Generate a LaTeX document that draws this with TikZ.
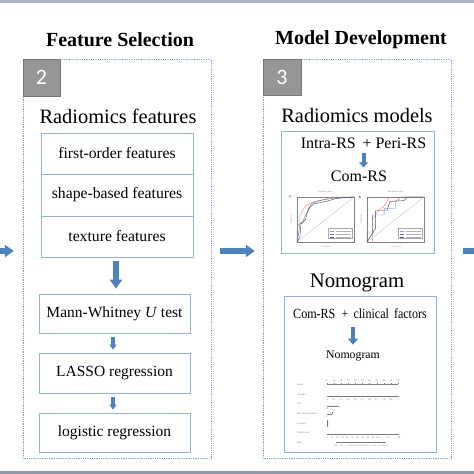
\documentclass[tikz,border=0pt]{standalone}
\usepackage{fontspec}
\setmainfont{Liberation Serif}
\newfontfamily\numfont{Carlito}
\usetikzlibrary{arrows.meta,calc}
\definecolor{boxblue}{HTML}{95B3D7}
\definecolor{dotblue}{HTML}{7FA7D0}
\definecolor{arrblue}{HTML}{4F81BD}
\definecolor{sqgray}{HTML}{969696}
\definecolor{rocred}{HTML}{F08080}
\definecolor{rocblue}{HTML}{5B7FC8}
\definecolor{rocgray}{HTML}{555555}
\definecolor{nomgray}{HTML}{7A7A7A}
\tikzset{
  panel/.style={draw=dotblue, line width=0.7pt, dash pattern=on 0.9pt off 0.9pt},
  numsq/.style={fill=sqgray, draw=sqgray!80!black, line width=0.3pt, text=white, font=\numfont\fontsize{22}{24}\selectfont, inner sep=0pt},
  lbox/.style={draw=boxblue, line width=0.8pt, inner sep=0pt, align=center},
  ttl/.style={font=\bfseries\fontsize{20}{22}\selectfont},
  bigtxt/.style={font=\fontsize{20.4}{22}\selectfont, inner sep=0pt},
  midtxt/.style={font=\fontsize{15.7}{17}\selectfont},
  blockarrow/.style={draw=arrblue, line width=6pt, -{Triangle[width=12pt,length=9pt]}},
  smallarrow/.style={draw=arrblue, line width=3.5pt, -{Triangle[width=7pt,length=5pt]}},
  nomtxt/.style={font=\fontsize{2.5}{2.8}\selectfont, text=nomgray, inner sep=0pt},
  nomline/.style={draw=nomgray, line width=0.4pt},
}
\begin{document}
\begin{tikzpicture}[x=1pt,y=-1pt]
\useasboundingbox (0,0) rectangle (474,474);
\clip (0,0) rectangle (474,474);
\fill[white] (0,0) rectangle (474,474);
\fill[color={rgb,255:red,167;green,180;blue,194}] (0,0) rectangle (474,2.5);
\fill[color={rgb,255:red,142;green,153;blue,165}] (0,471) rectangle (474,474);

% titles
\node[ttl] (t1) at (120,40) {Feature Selection};
\node[ttl] (t2) at (361,40) {Model Development};

% panels
\draw[panel] (23,59) rectangle (211,458);
\draw[panel] (263,59) rectangle (451,458);
\node (pL) [minimum width=188pt, minimum height=399pt, inner sep=0pt] at (117,258.5) {};
\node (pR) [minimum width=188pt, minimum height=399pt, inner sep=0pt] at (357,258.5) {};
\node[numsq, minimum width=37pt, minimum height=37pt] (n2) at (41.5,77.5) {2};
\node[numsq, minimum width=38pt, minimum height=36pt] (n3) at (282,77) {3};

% left panel
\node[bigtxt] (rf) at (118,116) {Radiomics features};
\node[lbox, midtxt, minimum width=152pt, minimum height=41pt] (f1) at (117,153.5) {first-order features};
\node[lbox, midtxt, minimum width=152pt, minimum height=42pt] (f2) at (117,195) {shape-based features};
\node[lbox, midtxt, minimum width=152pt, minimum height=41pt] (f3) at (117,236.5) {texture features};
\node[lbox, font=\fontsize{15.5}{17}\selectfont, minimum width=151pt, minimum height=39pt] (mw) at (114.5,313.5) {Mann-Whitney \textit{U} test};
\node[lbox, font=\fontsize{15.5}{17}\selectfont, minimum width=151pt, minimum height=40pt] (la) at (114.5,373) {LASSO regression};
\node[lbox, font=\fontsize{15.5}{17}\selectfont, minimum width=151pt, minimum height=39pt] (lr) at (114.5,432.5) {logistic regression};

\draw[blockarrow, shorten <=4pt, shorten >=5pt] (f3.south -| 116,0) -- (mw.north -| 116,0);
\draw[smallarrow, shorten <=4pt, shorten >=3pt] (mw.south -| 113,0) -- (la.north -| 113,0);
\draw[smallarrow, shorten <=4pt, shorten >=3pt] (la.south -| 113,0) -- (lr.north -| 113,0);

% panel arrows
\coordinate (lin) at (-4,251);
\coordinate (rout) at (486,251);
\draw[blockarrow, shorten >=9pt] (lin) -- (pL.west |- lin);
\draw[blockarrow, shorten <=9pt, shorten >=8pt] (pL.east |- lin) -- (pR.west |- lin);
\draw[blockarrow, shorten <=12pt] (pR.east |- rout) -- (rout);

% right panel: radiomics models
\node[bigtxt] (rm) at (357,116) {Radiomics models};
\node[lbox, minimum width=153pt, minimum height=122pt] (rmb) at (357.5,192) {};
\node[font=\fontsize{16}{18}\selectfont, inner sep=0pt] (intra) at (363.5,143) {Intra-RS \,+ Peri-RS};
\node[font=\fontsize{16}{18}\selectfont, inner sep=0pt] (com) at (359,176) {Com-RS};
\draw[smallarrow, line width=4pt, -{Triangle[width=9pt,length=5pt]}, shorten <=4pt, shorten >=3pt] (intra.south) -- (intra.south |- com.north);

% ROC plots
\foreach \ox/\lab/\ttlx in {297/a/Training cohort,367/b/Validation cohort}{
\begin{scope}[shift={(\ox,242)}, x=57pt, y=45pt]
  \draw[line width=0.3pt, color=gray] (0,0) rectangle (1,1);
  \draw[line width=0.3pt, color=rocblue!50] (0,0) -- (1,1);
  \node[font=\fontsize{2.3}{2.6}\selectfont, text=gray, inner sep=0pt] at (0.5,1.12) {\ttlx};
  \node[font=\bfseries\fontsize{3}{3}\selectfont, inner sep=0pt] at (-0.12,1.0) {\lab};
  \node[font=\fontsize{2}{2}\selectfont, text=gray, inner sep=0pt] at (0.5,-0.12) {1 - Specificity};
  \node[font=\fontsize{2}{2}\selectfont, text=gray, inner sep=0pt, rotate=90] at (-0.1,0.5) {Sensitivity};
  \draw[line width=0.25pt, color=gray!70] (0.55,0.08) rectangle (0.97,0.3);
  \foreach \yy/\cc in {0.25/rocred,0.18/rocblue,0.11/rocgray}{
    \draw[line width=0.3pt, color=\cc] (0.58,\yy) -- (0.65,\yy);
    \draw[line width=0.25pt, color=gray!60] (0.68,\yy) -- (0.94,\yy);
  }
\end{scope}}
\begin{scope}[shift={(297,242)}, x=57pt, y=45pt]
  \draw[line width=0.45pt, color=rocred] (0,0) -- (0,0.3) -- (0.05,0.45) -- (0.05,0.6) -- (0.1,0.7) -- (0.15,0.8) -- (0.3,0.9) -- (0.5,0.95) -- (0.6,1) -- (1,1);
  \draw[line width=0.45pt, color=rocblue] (0,0) -- (0.03,0.2) -- (0.05,0.4) -- (0.1,0.45) -- (0.15,0.6) -- (0.2,0.7) -- (0.25,0.85) -- (0.4,0.92) -- (0.6,0.97) -- (1,1);
  \draw[line width=0.45pt, color=rocgray] (0,0) -- (0.05,0.1) -- (0.07,0.4) -- (0.15,0.5) -- (0.2,0.75) -- (0.3,0.85) -- (0.5,0.9) -- (0.7,0.97) -- (1,1);
\end{scope}
\begin{scope}[shift={(367,242)}, x=57pt, y=45pt]
  \draw[line width=0.45pt, color=rocred] (0,0) -- (0.1,0) -- (0.1,0.5) -- (0.2,0.7) -- (0.3,0.8) -- (0.4,1) -- (1,1);
  \draw[line width=0.45pt, color=rocblue] (0,0) -- (0,0.2) -- (0.1,0.2) -- (0.1,0.6) -- (0.3,0.6) -- (0.3,0.75) -- (0.5,0.75) -- (0.5,0.9) -- (0.6,1) -- (1,1);
  \draw[line width=0.45pt, color=rocgray] (0,0) -- (0.05,0.1) -- (0.15,0.3) -- (0.15,0.7) -- (0.35,0.7) -- (0.4,0.9) -- (0.65,0.92) -- (0.7,1) -- (1,1);
\end{scope}

% nomogram section
\node[font=\fontsize{20.7}{23}\selectfont, inner sep=0pt] (nh) at (357,283) {Nomogram};
\node[lbox, minimum width=152pt, minimum height=156pt] (nb) at (360,374) {};
\node[font=\fontsize{14}{16}\selectfont, inner sep=0pt] (clin) at (360,314) {\scalebox{0.86}[1]{Com-RS \;+ \,clinical \,factors}};
\node[font=\fontsize{11.8}{14}\selectfont, inner sep=0pt] (nsm) at (353,356) {Nomogram};
\draw[smallarrow, line width=4.5pt, -{Triangle[width=10pt,length=6pt]}, shorten <=8pt, shorten >=6pt] (clin.south -| nsm.north) -- (nsm.north);

% nomogram graphic
\foreach \lb/\yy in {Points/385,Com-RS/395,Size/404,Menstruation status/414,Location/424,Total Points/433,Risk/443}{
  \node[nomtxt, anchor=west] at (297,\yy) {\lb};
}
\draw[nomline] (327,384) -- (398,384);
\foreach \i in {0,...,10}{
  \draw[nomline] ({327+7.1*\i},384) -- ({327+7.1*\i},383);
  \pgfmathtruncatemacro{\v}{10*\i}
  \node[nomtxt] at ({327+7.1*\i},381) {\v};
}
\draw[nomline] (327,396) -- (398,396);
\foreach \i in {0,...,10}{
  \draw[nomline] ({327+7.1*\i},396) -- ({327+7.1*\i},397);
}
\foreach \i/\t in {0/0,1/0.1,2/0.2,3/0.3,4/0.4,5/0.5,6/0.6,7/0.7,8/0.8,9/0.9,10/1}{
  \node[nomtxt] at ({327+7.1*\i},399.5) {\t};
}
\draw[nomline] (327,406) -- (339,406);
\node[nomtxt] at (327,408.5) {0};
\node[nomtxt] at (339,403.5) {1};
\draw[nomline] (327,414) -- (332,414);
\draw[nomline] (332,414) -- (332,412);
\node[nomtxt] at (334,411) {0};
\node[nomtxt] at (327,416.5) {1};
\draw[nomline] (327,420) -- (327,427);
\node[nomtxt] at (328,421) {1};
\node[nomtxt] at (328,424) {2};
\node[nomtxt] at (328,427) {3};
\draw[nomline] (327,434) -- (398,434);
\foreach \i/\t in {0/0,1/10,2/20,3/30,4/40,5/50,6/60,7/70,8/80,9/90,10/100,12/110,14/120}{
  \draw[nomline] ({327+5.1*\i},434) -- ({327+5.1*\i},435);
  \node[nomtxt] at ({327+5.1*\i},437.5) {\t};
}
\draw[nomline] (336,442) -- (385,442);
\foreach \x/\t in {336/0.05,342/0.1,349/0.2,353/0.3,357/0.4,361/0.5,365/0.6,369/0.7,374/0.8,380/0.9,385/0.95}{
  \draw[nomline] (\x,442) -- (\x,443);
  \node[nomtxt] at (\x,446) {\t};
}
\end{tikzpicture}
\end{document}
